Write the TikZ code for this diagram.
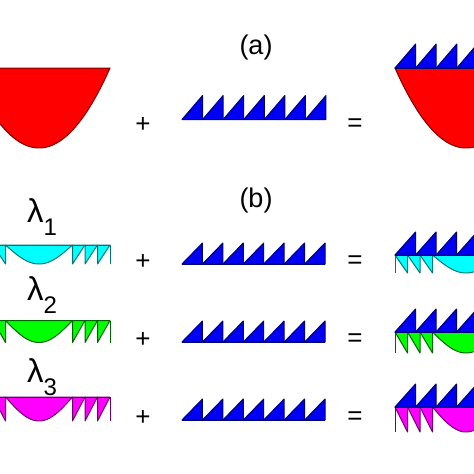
\documentclass[tikz,border=0pt]{standalone}
\usepackage{fontspec}
\setmainfont{Liberation Sans}
\definecolor{sawblue}{RGB}{0,0,245}
\definecolor{sawedge}{RGB}{0,0,110}
\definecolor{redfill}{RGB}{255,0,0}
\definecolor{rededge}{RGB}{120,0,0}
\definecolor{cyanfill}{RGB}{0,255,255}
\definecolor{cyanedge}{RGB}{0,120,120}
\definecolor{greenfill}{RGB}{0,255,0}
\definecolor{greenedge}{RGB}{0,100,0}
\definecolor{magfill}{RGB}{255,0,255}
\definecolor{magedge}{RGB}{110,0,110}
% sawtooth row: x0, base, height, tooth width
\newcommand\sawrow[4]{%
  \foreach \i in {0,...,6}{%
    \filldraw[saw] ({#1+\i*#4},#2) -- ({#1+(\i+1)*#4},{#2-#3}) -- ({#1+(\i+1)*#4},#2) -- cycle;}%
  \draw[saw] (#1,#2) -- ({#1+7*#4},#2);}
% lambda shape: left x, top y, depth, fill, edge
\newcommand\lamshape[5]{%
  \begin{scope}[fill=#4,draw=#5,line width=1pt,line join=round]
  \foreach \i in {0,1,2}{%
    \filldraw ({#1+\i*12.5},#2) -- ({#1+(\i+1)*12.5},#2) -- ({#1+(\i+1)*12.5},{#2+#3}) -- cycle;
    \filldraw ({#1+104.5+\i*12.5},#2) -- ({#1+104.5+\i*12.5},{#2+#3}) -- ({#1+104.5+(\i+1)*12.5},#2) -- cycle;}
  \filldraw plot[domain=0:1,samples=50] ({#1+37.5+67*\x},{#2+#3*sin(180*\x)}) -- cycle;
  \draw (#1,#2) -- (#1,{#2+#3});
  \draw ({#1+142},#2) -- ({#1+142},{#2+#3});
  \draw (#1,#2) -- ({#1+142},#2);
  \end{scope}}
% red bowl: left x, top y, depth
\newcommand\redbowl[3]{%
  \filldraw[fill=redfill,draw=rededge,line width=1pt] plot[domain=0:1,samples=60] ({#1+142*\x},{#2+4*#3*\x*(1-\x)}) -- cycle;}
\begin{document}
\begin{tikzpicture}[x=1pt,y=-1pt,
  saw/.style={fill=sawblue,draw=sawedge,line width=1pt,line join=round},
  lbl/.style={font=\fontsize{27}{30}\selectfont,inner sep=0pt},
  op/.style={font=\fontsize{26}{28}\selectfont,inner sep=0pt},
  lam/.style={font=\fontsize{33}{36}\selectfont,inner sep=0pt,anchor=base west}]
\useasboundingbox (0,0) rectangle (474,474);
\clip (0,0) rectangle (474,474);
% labels
\node[lbl] (la) at (256,48) {(a)};
\node[lbl] (lb) at (256,201) {(b)};
% row (a)
\redbowl{-32}{68}{80}
\node[op] (pa) at (143,125) {+};
\sawrow{182}{119.5}{24}{20.57}
\node[op] (ea) at (355,125) {=};
\redbowl{395}{68}{80}
\sawrow{395}{68}{24}{20.6}
% row b1
\node[lam] (l1) at (27,222) {λ\raisebox{-0.42em}{\fontsize{24}{24}\selectfont 1}};
\lamshape{-32}{245}{19}{cyanfill}{cyanedge}
\node[op] (p1) at (143,262) {+};
\sawrow{182}{264}{21}{20.43}
\node[op] (e1) at (355,262) {=};
\lamshape{395}{255}{18}{cyanfill}{cyanedge}
\sawrow{395}{255}{23}{20.5}
% row b2
\node[lam] (l2) at (27,300) {λ\raisebox{-0.42em}{\fontsize{24}{24}\selectfont 2}};
\lamshape{-32}{320.5}{22}{greenfill}{greenedge}
\node[op] (p2) at (143,340) {+};
\sawrow{182}{342}{21}{20.43}
\node[op] (e2) at (355,340) {=};
\lamshape{395}{332}{21}{greenfill}{greenedge}
\sawrow{395}{332}{23}{20.5}
% row b3
\node[lam] (l3) at (27,382) {λ\raisebox{-0.42em}{\fontsize{24}{24}\selectfont 3}};
\lamshape{-32}{397}{24}{magfill}{magedge}
\node[op] (p3) at (143,418) {+};
\sawrow{182}{420}{21}{20.43}
\node[op] (e3) at (355,418) {=};
\lamshape{395}{407}{25}{magfill}{magedge}
\sawrow{395}{407}{23}{20.5}
\end{tikzpicture}
\end{document}
